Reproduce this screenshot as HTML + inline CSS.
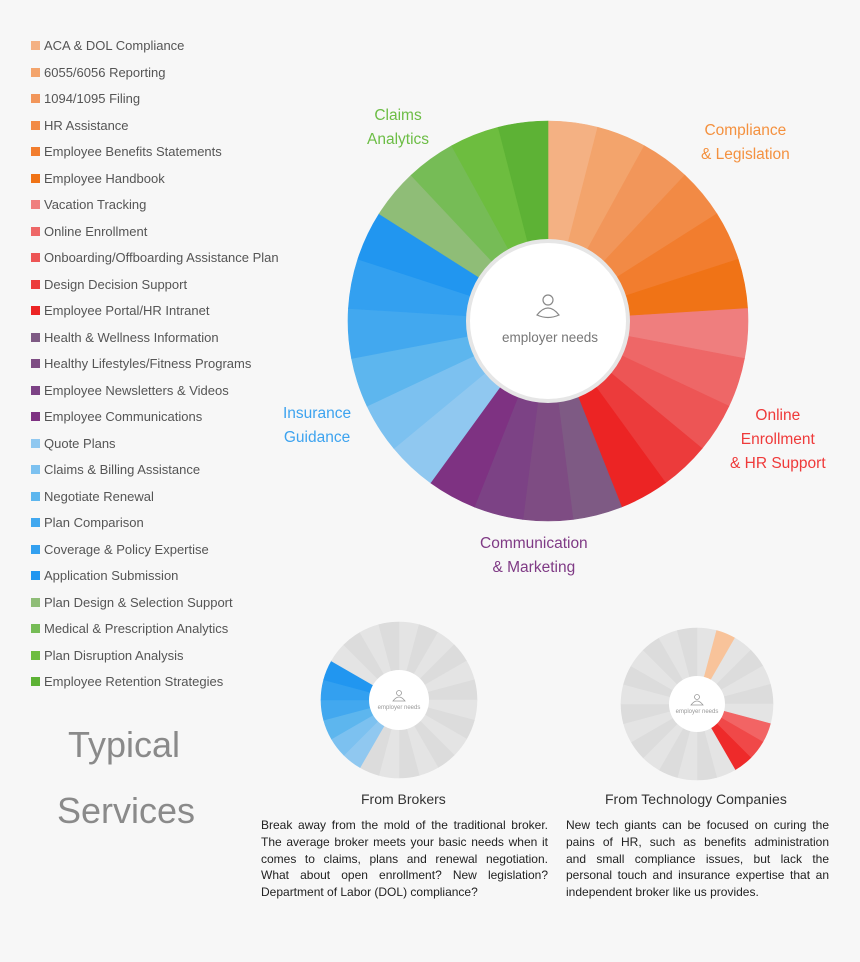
<!DOCTYPE html>
<html><head><meta charset="utf-8"><style>
body{margin:0;background:#f7f7f7;font-family:"Liberation Sans",sans-serif;}
#wrap{position:relative;width:860px;height:962px;overflow:hidden;background:#f7f7f7}
.leg{position:absolute;left:31px;font-size:13px;color:#555;white-space:nowrap}
.leg i{display:inline-block;width:9px;height:9px;margin-right:4px;vertical-align:0px}
.lab{position:absolute;font-size:15.5px;text-align:center;line-height:24px;white-space:nowrap}
.p{position:absolute;font-size:12px;color:#222;line-height:16.8px}
.p div{text-align:justify;text-align-last:justify;white-space:nowrap}
.p div.l{text-align-last:left}
</style></head><body><div id="wrap">
<svg id="s" width="860" height="962" style="position:absolute;left:0;top:0"></svg>
<div id="legend"></div>
<div class="lab" style="left:367px;top:104px;color:#6cbd45">Claims<br>Analytics</div>
<div class="lab" style="left:701px;top:119px;color:#f4913f">Compliance<br>&amp; Legislation</div>
<div class="lab" style="left:730px;top:404px;color:#ef3a3a">Online<br>Enrollment<br>&amp; HR Support</div>
<div class="lab" style="left:283px;top:402px;color:#3da3ef">Insurance<br>Guidance</div>
<div class="lab" style="left:480px;top:532px;color:#7f3a85">Communication<br>&amp; Marketing</div>
<div style="position:absolute;left:68px;top:724px;font-size:36px;color:#8a8a8a">Typical</div>
<div style="position:absolute;left:57px;top:790px;font-size:36px;color:#8a8a8a">Services</div>
<div style="position:absolute;left:361px;top:791px;font-size:14px;color:#333">From Brokers</div>
<div style="position:absolute;left:605px;top:791px;font-size:14px;color:#333">From Technology Companies</div>
<div class="p" style="left:261px;top:817px;width:287px">
<div>Break away from the mold of the traditional broker.</div>
<div>The average broker meets your basic needs when it</div>
<div>comes to claims, plans and renewal negotiation.</div>
<div>What about open enrollment? New legislation?</div>
<div class="l">Department of Labor (DOL) compliance?</div></div>
<div class="p" style="left:566px;top:817px;width:263px">
<div>New tech giants can be focused on curing the</div>
<div>pains of HR, such as benefits administration</div>
<div>and small compliance issues, but lack the</div>
<div>personal touch and insurance expertise that an</div>
<div class="l">independent broker like us provides.</div></div>
</div>
<script>
var cols=["#f4b183","#f3a46c","#f2965a","#f28a45","#f27d2e","#f07316",
"#ef7e7e","#ee6767","#ed5555","#ec3b3b","#ec2424",
"#7e5a84","#7e4c83","#7c4285","#7e3282",
"#90c8f0","#7cc1f0","#5db6ee","#42a8ef","#33a0f0","#2196f0",
"#8fbd77","#76bc56","#6dbd3f","#5db235"];
var names=["ACA & DOL Compliance","6055/6056 Reporting","1094/1095 Filing","HR Assistance","Employee Benefits Statements","Employee Handbook","Vacation Tracking","Online Enrollment","Onboarding/Offboarding Assistance Plan","Design Decision Support","Employee Portal/HR Intranet","Health & Wellness Information","Healthy Lifestyles/Fitness Programs","Employee Newsletters & Videos","Employee Communications","Quote Plans","Claims & Billing Assistance","Negotiate Renewal","Plan Comparison","Coverage & Policy Expertise","Application Submission","Plan Design & Selection Support","Medical & Prescription Analytics","Plan Disruption Analysis","Employee Retention Strategies"];
var lg=document.getElementById('legend'),h='';
for(var i=0;i<names.length;i++){h+='<div class="leg" style="top:'+(38+i*26.5)+'px"><i style="background:'+cols[i]+'"></i>'+names[i].replace('&','&amp;')+'</div>';}
lg.innerHTML=h;
function pt(cx,cy,r,a){a=(a-90)*Math.PI/180;return [cx+r*Math.cos(a),cy+r*Math.sin(a)];}
function wedge(cx,cy,r0,r1,a0,a1,c){var p=[pt(cx,cy,r1,a0),pt(cx,cy,r1,a1),pt(cx,cy,r0,a1),pt(cx,cy,r0,a0)];
return '<path d="M'+p[0]+' A'+r1+' '+r1+' 0 0 1 '+p[1]+' L'+p[2]+' L'+p[3]+'Z" fill="'+c+'" stroke="'+c+'" stroke-width="0.6"/>';}
var s='';
var n=25,step=360/n;
for(var i=0;i<n;i++){s+=wedge(548,321,60,200,i*step,(i+1)*step,cols[i]);}
s+='<circle cx="548" cy="321" r="80" fill="#fff" stroke="#e6e6e6" stroke-width="4"/>';
s+='<circle cx="548" cy="300" r="5" fill="none" stroke="#888" stroke-width="1.2"/><path d="M537 315 Q548 301 559 315 Q548 320 537 315Z" fill="none" stroke="#888" stroke-width="1.2"/>';
s+='<text x="550" y="342" font-size="13.5" fill="#777" text-anchor="middle" font-family="Liberation Sans">employer needs</text>';
function small(cx,cy,R,ri,colored){var g=['#e4e4e4','#dcdcdc'];
 for(var i=0;i<24;i++){var a0=i*15,c=g[i%2];
  for(var k=0;k<colored.length;k++){if(colored[k][0]==i)c=colored[k][1];}
  s+=wedge(cx,cy,ri-5,R,a0,a0+15,c);}
 s+='<circle cx="'+cx+'" cy="'+cy+'" r="'+ri+'" fill="#fff"/>';
 s+='<circle cx="'+cx+'" cy="'+(cy-7)+'" r="2.5" fill="none" stroke="#999" stroke-width="0.8"/><path d="M'+(cx-6)+' '+(cy+1)+' Q'+cx+' '+(cy-7)+' '+(cx+6)+' '+(cy+1)+'Z" fill="none" stroke="#999" stroke-width="0.8"/>';
 s+='<text x="'+cx+'" y="'+(cy+9)+'" font-size="6" fill="#999" text-anchor="middle" font-family="Liberation Sans">employer needs</text>';}
small(399,700,78,30,[[14,'#90c8f0'],[15,'#7cc1f0'],[16,'#5db6ee'],[17,'#42a8ef'],[18,'#33a0f0'],[19,'#2196f0']]);
small(697,704,76,28,[[1,'#f8c39a'],[7,'#f26464'],[8,'#f04848'],[9,'#ee2a2a']]);
document.getElementById('s').innerHTML=s;
</script>
</body></html>
